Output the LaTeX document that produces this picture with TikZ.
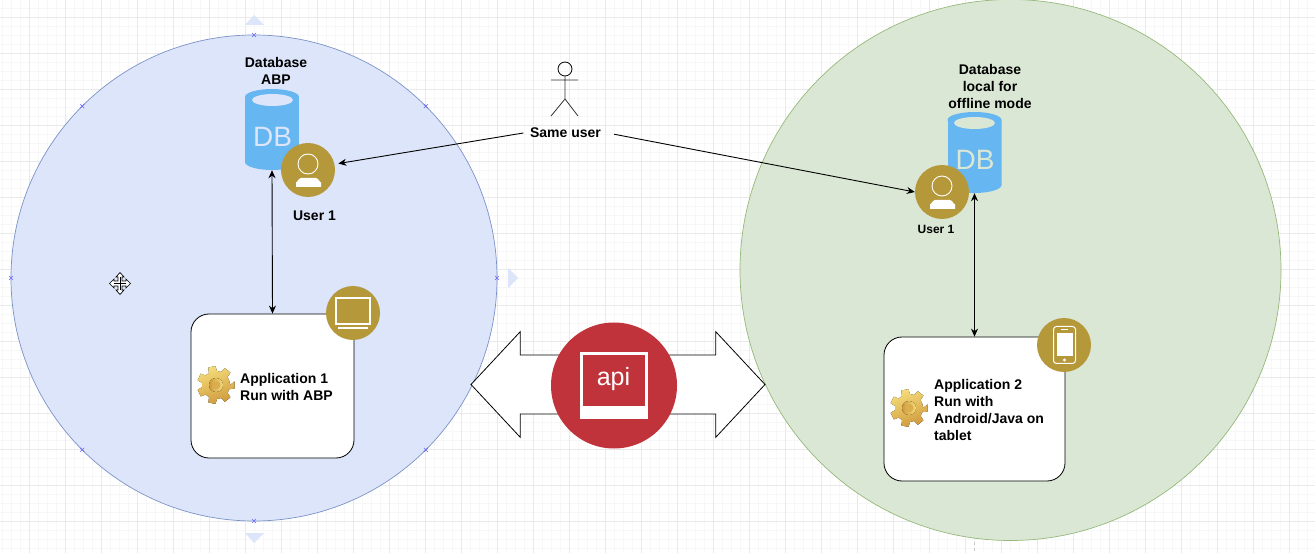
\documentclass[tikz,border=0pt]{standalone}
\usepackage{fontspec}
\setmainfont{Liberation Sans}
\usetikzlibrary{shapes.geometric,shapes.arrows,arrows.meta,positioning}

\definecolor{bluefill}{HTML}{DCE5FA}
\definecolor{blueline}{HTML}{7C93C8}
\definecolor{greenfill}{HTML}{DBE7D5}
\definecolor{greenline}{HTML}{95B97A}
\definecolor{dbblue}{HTML}{66B6F1}
\definecolor{badgegold}{HTML}{B5983A}
\definecolor{apired}{HTML}{C1333B}
\definecolor{gridminor}{HTML}{F7F7F7}
\definecolor{gridmajor}{HTML}{E9E9E9}
\definecolor{gearlight}{HTML}{F5DC7A}
\definecolor{geardark}{HTML}{CF9A3C}

\begin{document}
\begin{tikzpicture}[x=1pt,y=-1pt,every node/.style = {align=center, inner sep=0pt}]
			\tikzset{ boldlabel/.style = { font=\fontsize{14}{17}\selectfont\bfseries } }
			\tikzset{ smalllabel/.style = { font=\fontsize{12}{15}\selectfont\bfseries } }
			\tikzset{ conn/.style = { draw=black, line width=0.9pt, {Stealth[length=8pt,width=7pt]}-{Stealth[length=8pt,width=7pt]} } }
			\tikzset{ connto/.style = { draw=black, line width=0.9pt, -{Stealth[length=8pt,width=7pt]} } }
			\tikzset{ zonecircle/.style = { shape=circle, draw, line width=0.7pt, minimum size=#1 } }
			\tikzset{ badge/.style = { shape=circle, fill=badgegold, minimum size=54pt } }
			\tikzset{ dbcan/.style = {
					shape=rectangle, minimum width=54pt, minimum height=81pt,
					path picture={
						\fill[dbblue] (path picture bounding box.center) ++(-27,-32.5) rectangle ++(54,65);
						\fill[dbblue] (path picture bounding box.center) ++(0,-32.5) ellipse [x radius=27, y radius=8];
						\fill[dbblue] (path picture bounding box.center) ++(0,32.5) ellipse [x radius=27, y radius=8];
					}
				}
			}
			\tikzset{ dblid/.style = { shape=ellipse, minimum width=#1, minimum height=12pt } }
			\tikzset{ dbtext/.style = { font=\fontsize{28}{28}\selectfont } }
			\tikzset{ appbox/.style = { shape=rectangle, rounded corners=18pt, draw=black, line width=0.8pt, fill=white } }
			\tikzset{ gear/.pic = {
					\fill[left color=gearlight, right color=geardark, shading angle=20]
						(0:14) \foreach \a in {0,51.4,...,309} {
							-- (\a-11:19) -- (\a+11:19) -- (\a+17:14) -- (\a+34:14)
						} -- cycle;
					\fill[left color=geardark, right color=gearlight] (0,0) circle (7);
					\fill[geardark!70!gearlight] (0.5,0) circle (4);
				}
			}

			\useasboundingbox (0,0) rectangle (1315,553);

			% background grid
			\fill[white] (0,0) rectangle (1315,553);
			\foreach \x in {2,11,...,1315} { \draw[gridminor, line width=0.6pt] (\x,0) -- (\x,553); }
			\foreach \y in {8.5,17.5,...,553} { \draw[gridminor, line width=0.6pt] (0,\y) -- (1315,\y); }
			\foreach \x in {29,65,...,1315} { \draw[gridmajor, line width=0.7pt] (\x,0) -- (\x,553); }
			\foreach \y in {17.5,53.5,...,553} { \draw[gridmajor, line width=0.7pt] (0,\y) -- (1315,\y); }
			\draw[gray!45, dashed, line width=0.6pt] (974,536) -- (974,553);

			% zones
			\node [zonecircle=486pt, fill=bluefill, draw=blueline] (zoneabp) at (254,278) {};
			\node [zonecircle=541pt, fill=greenfill, draw=greenline] (zonelocal) at (1010.5,270) {};

			% selection handles of the blue zone
			\foreach \a in {0,45,...,315} {
				\draw[blue!60!white, line width=0.6pt] (254,278) ++(\a:243) ++(-2,-2) -- ++(4,4) ++(-4,0) -- ++(4,-4);
			}
			\fill[bluefill] (245,25) -- (254,15) -- (264,25) -- cycle;
			\fill[bluefill] (245,533) -- (254,543) -- (264,533) -- cycle;
			\fill[bluefill] (508,268) -- (518,278) -- (508,288) -- cycle;

			% move cursor
			\draw[black, fill=white, line width=0.7pt, line join=miter]
				(120,272.5) -- (124,277) -- (122,277) -- (122,281) -- (126,281) -- (126,279) -- (130.5,283.5)
				-- (126,288) -- (126,286) -- (122,286) -- (122,290) -- (124,290) -- (120,294.5)
				-- (116,290) -- (118,290) -- (118,286) -- (114,286) -- (114,288) -- (109.5,283.5)
				-- (114,279) -- (114,281) -- (118,281) -- (118,277) -- (116,277) -- cycle;
			\draw[black, line width=0.7pt] (120,277) -- (120,290) (114,283.5) -- (126,283.5);

			% left side
			\node [dbcan] (dbabp) at (272,129.5) {};
			\node [dblid=41pt, fill=bluefill] (dbabplid) at (272.5,100) {};
			\node [dbtext, text=bluefill] (dbabptext) at (272.5,137) {DB};
			\node [boldlabel] (dbabplabel) at (276,71) {Database\\ABP};
			\node [appbox, minimum width=163pt, minimum height=144pt] (appabp) at (272.5,386) {};
			\pic at (216,385) {gear};
			\node [boldlabel, align=left, anchor=west] (appabplabel) at (240,386.5) {Application 1\\Run with ABP};
			\node [badge, outer sep=4pt] (userabp) at (308,170) {};
			\node [boldlabel] (userabplabel) at (314.5,216) {User 1};
			\draw[white, line width=0.9pt] (308,164) circle (10);
			\fill[white] (296,187) -- (296,182) to[out=-90,in=180] (301,178) -- (316,178) to[out=0,in=-90] (321,182) -- (321,187) -- cycle;
			\node [badge] (screenbadge) at (353,313) {};
			\draw[white, line width=2pt] (336,298.5) rectangle (370,324.5);
			\fill[white] (338,327) rectangle (368,329.5);
			\draw[conn] (dbabp.south) -- (appabp.north);

			% right side
			\node [dbcan] (dblocal) at (974.5,152.5) {};
			\node [dblid=41pt, fill=greenfill] (dblocallid) at (974.5,123) {};
			\node [dbtext, text=greenfill] (dblocaltext) at (975,159.5) {DB};
			\node [boldlabel] (dblocallabel) at (990,86) {Database\\local for\\offline mode};
			\node [appbox, minimum width=181pt, minimum height=144pt] (applocal) at (974.5,409) {};
			\pic at (909,408) {gear};
			\node [boldlabel, align=left, anchor=west] (applocallabel) at (934,409.5) {Application 2\\Run with\\Android/Java on\\tablet};
			\node [badge] (userlocal) at (942,192) {};
			\node [smalllabel] (userlocallabel) at (936,229) {User 1};
			\draw[white, line width=0.9pt] (942,186) circle (10);
			\fill[white] (930,209) -- (930,204) to[out=-90,in=180] (935,200) -- (950,200) to[out=0,in=-90] (955,204) -- (955,209) -- cycle;
			\node [badge] (phonebadge) at (1064,345) {};
			\draw[white, line width=1pt, rounded corners=3pt] (1053.5,326.5) rectangle (1075.5,363.5);
			\fill[white] (1057,333) rectangle (1073,356);
			\draw[white, line width=0.8pt] (1061,329.3) -- (1068,329.3);
			\fill[white] (1064.5,360) circle (1.6);
			\draw[conn] (dblocal.south) -- (applocal.north);

			% user in the middle
			\node [shape=circle, draw=black, line width=0.8pt, minimum size=14pt] (actorhead) at (565,69) {};
			\draw[black!80, line width=0.8pt] (actorhead.south) -- (565,99) -- (551,116) (565,99) -- (578,116) (551,80) -- (578,80);
			\node [boldlabel, minimum width=84pt, minimum height=16pt] (sameuser) at (565.5,133) {Same user};
			\draw[connto] (sameuser.west) -- (userabp.12);
			\draw[connto, shorten <=6.5pt] (sameuser.east) -- (userlocal.west);

			% api between the two
			\node [shape=double arrow, draw=black, line width=0.8pt, fill=white, double arrow head extend=23.5pt, double arrow tip angle=94, minimum height=294pt, inner xsep=0pt, inner ysep=29pt] (apiarrow) at (618,384.5) {};
			\node [shape=circle, fill=apired, minimum size=126pt] (apibadge) at (614,385.5) {};
			\fill[white] (580,352) rectangle (648,419);
			\fill[apired] (583,355) rectangle (645,406);
			\node [font=\fontsize{25}{25}\selectfont, text=white] (apilabel) at (613.5,379) {api};
		\end{tikzpicture}
\end{document}
